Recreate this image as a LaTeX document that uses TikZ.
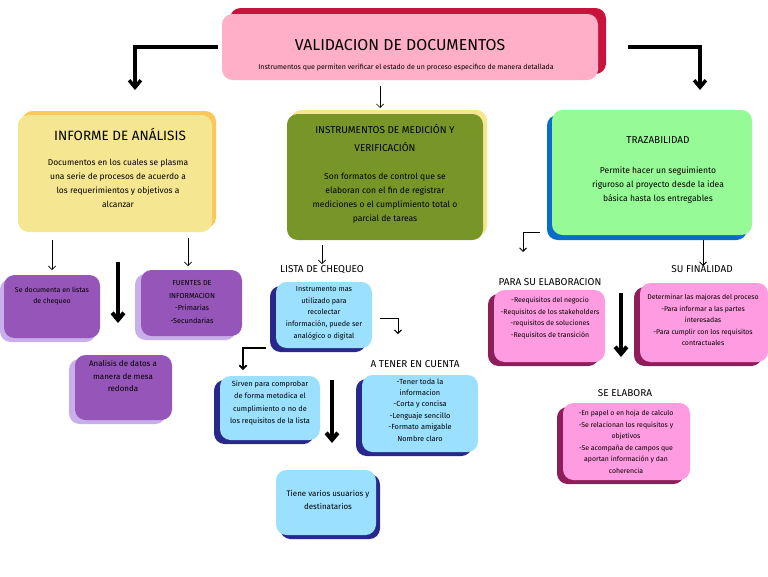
\documentclass[tikz,border=0pt]{standalone}
\usepackage{fontspec}
\setmainfont{Fira Sans}
\usetikzlibrary{arrows.meta}
\definecolor{titlepink}{RGB}{255,175,200}
\definecolor{titleshadow}{RGB}{200,20,60}
\definecolor{yel}{RGB}{245,230,145}
\definecolor{yelshadow}{RGB}{250,200,90}
\definecolor{olive}{RGB}{120,150,40}
\definecolor{lgreen}{RGB}{150,250,150}
\definecolor{gshadow}{RGB}{10,110,200}
\definecolor{purp}{RGB}{150,85,185}
\definecolor{purpshadow}{RGB}{200,175,235}
\definecolor{lblue}{RGB}{155,225,255}
\definecolor{navy}{RGB}{40,40,140}
\definecolor{pinkb}{RGB}{255,155,225}
\definecolor{maroon}{RGB}{140,30,90}
\tikzset{
  card/.style={rounded corners=9pt},
  txt/.style={align=center,font=\fontsize{6.8}{10.5}\selectfont},
  head/.style={font=\fontsize{9}{11}\selectfont},
  thin arr/.style={-{Straight Barb[length=3pt]},semithick},
  fat arr/.style={-{Straight Barb[length=6pt,width=10pt]},line width=3.5pt},
}
% card: name, x1, y1, x2, y2, fill, shadow, dx, dy
\newcommand{\card}[9]{%
  \fill[#7,card] (#2+#8,#3+#9) rectangle (#4+#8,#5+#9);
  \fill[#6,card] (#2,#3) rectangle (#4,#5);
  \coordinate (#1) at ({(#2+#4)/2},{(#3+#5)/2});}
\begin{document}
\begin{tikzpicture}[x=0.03cm,y=-0.03cm]
\useasboundingbox (0,0) rectangle (768,576);
%Titulo
\card{tit}{222}{14}{598}{80}{titlepink}{titleshadow}{8}{-6}
\node[font=\fontsize{13.5}{15}\selectfont] (tith) at (400,45) {VALIDACION DE DOCUMENTOS};
\node[txt,font=\fontsize{6}{7}\selectfont] (tits) at (406,68) {Instrumentos que permiten verificar el estado de un proceso especifico de manera detallada};
%Ramas principales
\card{inf}{18}{115}{212}{232}{yel}{yelshadow}{4}{-4}
\node[head,font=\fontsize{11.5}{13}\selectfont] (infh) at (120,134) {INFORME DE ANÁLISIS};
\node[txt,font=\fontsize{7.2}{12}\selectfont] (inft) at (118,183) {Documentos en los cuales se plasma\\una serie de procesos de acuerdo a\\los requerimientos y objetivos a\\alcanzar};
\card{ins}{287}{114}{483}{240}{olive}{yel}{4}{-4}
\node[head,align=center,font=\fontsize{8.5}{15}\selectfont] (insh) at (385,138) {INSTRUMENTOS DE MEDICIÓN Y\\VERIFICACIÓN};
\node[txt,font=\fontsize{7.3}{12}\selectfont] (inst) at (385,198) {Son formatos de control que se\\elaboran con el fin de registrar\\mediciones o el cumplimiento total o\\parcial de tareas};
\card{tra}{552}{110}{752}{235}{lgreen}{gshadow}{-5}{5}
\node[head,font=\fontsize{8.5}{10}\selectfont] (trah) at (658,140) {TRAZABILIDAD};
\node[txt,font=\fontsize{7.3}{12}\selectfont] (trat) at (658,185) {Permite hacer un seguimiento\\riguroso al proyecto desde la idea\\básica hasta los entregables};
%Informe
\card{doc}{4}{275}{100}{338}{purp}{purpshadow}{-4}{4}
\node[txt,font=\fontsize{6}{10}\selectfont] (doct) at (52,296) {Se documenta en listas\\de chequeo};
\card{fue}{141}{270}{242}{336}{purp}{purpshadow}{-6}{4}
\node[txt,font=\fontsize{6.2}{11}\selectfont] (fuet) at (192,302) {FUENTES DE\\INFORMACION\\-Primarias\\-Secundarias};
\card{ana}{75}{355}{172}{420}{purp}{purpshadow}{-6}{4}
\node[txt] (anat) at (123,376) {Analisis de datos a\\manera de mesa\\redonda};
%Lista de chequeo
\node[head,font=\fontsize{8.5}{10}\selectfont] (lish) at (322,270) {LISTA DE CHEQUEO};
\card{lis}{276}{282}{372}{348}{lblue}{navy}{-6}{4}
\node[txt,font=\fontsize{6.2}{10}\selectfont] (list) at (324,313) {Instrumento mas\\utilizado para\\recolectar\\información, puede ser\\analógico o digital};
\card{sir}{220}{376}{320}{440}{lblue}{navy}{-6}{4}
\node[txt,font=\fontsize{6.3}{10.5}\selectfont] (sirt) at (270,403) {Sirven para comprobar\\de forma metodica el\\cumplimiento o no de\\los requisitos de la lista};
\node[head,font=\fontsize{8.5}{10}\selectfont] (tenh) at (415,364) {A TENER EN CUENTA};
\card{ten}{362}{375}{478}{452}{lblue}{navy}{-6}{4}
\node[txt,font=\fontsize{6.3}{9.8}\selectfont] (tent) at (420,410) {-Tener toda la\\informacion\\-Corta y concisa\\-Lenguaje sencillo\\-Formato amigable\\Nombre claro};
\card{tie}{276}{470}{376}{535}{lblue}{navy}{4}{4}
\node[txt] (tiet) at (328,500) {Tiene varios usuarios y\\destinatarios};
%Trazabilidad
\node[head,font=\fontsize{8.5}{10}\selectfont] (parh) at (550,282) {PARA SU ELABORACION};
\card{par}{494}{290}{605}{362}{pinkb}{maroon}{-6}{4}
\node[txt,font=\fontsize{5.9}{9.8}\selectfont] (part) at (550,318) {-Reequisitos del negocio\\-Requisitos de los stakeholders\\-requisitos de soluciones\\-Requisitos de transición};
\node[head,font=\fontsize{8.5}{10}\selectfont] (finh) at (702,269) {SU FINALIDAD};
\card{fin}{640}{283}{768}{362}{pinkb}{maroon}{-6}{4}
\node[txt,font=\fontsize{5.9}{9.8}\selectfont] (fint) at (703,320) {Determinar las majoras del proceso\\-Para informar a las partes\\interesadas\\-Para cumplir con los requisitos\\contractuales};
\node[head,font=\fontsize{8.5}{10}\selectfont] (elah) at (625,393) {SE ELABORA};
\card{ela}{563}{403}{690}{480}{pinkb}{maroon}{-6}{4}
\node[txt,font=\fontsize{5.9}{9.8}\selectfont] (elat) at (626,442) {-En papel o en hoja de calculo\\-Se relacionan los requisitos y\\objetivos\\-Se acompaña de campos que\\aportan información y dan\\coherencia};
%Flechas
\coordinate (a1) at (218,47); \coordinate (a2) at (135,47); \coordinate (a3) at (135,90);
\coordinate (b1) at (628,47); \coordinate (b2) at (700,47); \coordinate (b3) at (700,90);
\draw[fat arr,line width=3pt] (a1) -- (a2) -- (a3);
\draw[fat arr,line width=3pt] (b1) -- (b2) -- (b3);
\coordinate (c1) at (380,86); \coordinate (c2) at (380,108);
\draw[thin arr] (c1) -- (c2);
\coordinate (d1) at (52,240); \coordinate (d2) at (52,270);
\coordinate (e1) at (188,238); \coordinate (e2) at (188,266);
\draw[thin arr] (d1) -- (d2);
\draw[thin arr] (e1) -- (e2);
\coordinate (f1) at (118,262); \coordinate (f2) at (118,323);
\draw[fat arr] (f1) -- (f2);
\coordinate (g1) at (322,245); \coordinate (g2) at (322,264);
\draw[thin arr] (g1) -- (g2);
\coordinate (h1) at (380,318); \coordinate (h2) at (398,318); \coordinate (h3) at (398,334);
\draw[thin arr,thick] (h1) -- (h2) -- (h3);
\coordinate (i1) at (266,348); \coordinate (i2) at (243,348); \coordinate (i3) at (243,370);
\draw[thin arr,line width=1.5pt] (i1) -- (i2) -- (i3);
\coordinate (j1) at (332,380); \coordinate (j2) at (332,443);
\draw[fat arr] (j1) -- (j2);
\coordinate (k1) at (540,232); \coordinate (k2) at (523,232); \coordinate (k3) at (523,252);
\draw[thin arr,thick] (k1) -- (k2) -- (k3);
\coordinate (l1) at (703,240); \coordinate (l2) at (703,266);
\draw[thin arr,thick] (l1) -- (l2);
\coordinate (m1) at (621,293); \coordinate (m2) at (621,357);
\draw[fat arr] (m1) -- (m2);
\end{tikzpicture}
\end{document}
